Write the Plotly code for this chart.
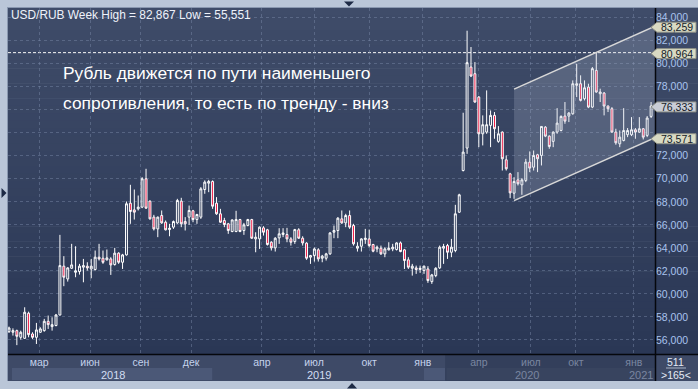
import plotly.graph_objects as go

# ---------------- data ----------------
title_text = "USD/RUB Week High = 82,867 Low = 55,551"
note_lines = ["Рубль движется по пути наименьшего",
              "сопротивления, то есть по тренду - вниз"]

opens = [56.72, 56.67, 56.81, 56.23, 56.14, 58.32, 56.52, 56.23, 56.67, 56.81,
         57.62, 57.16, 57.25, 58.17, 62.41, 61.30, 62.23, 61.88, 61.94, 62.32,
         62.41, 62.17, 62.12, 63.19, 63.10, 62.96, 63.04, 62.55, 63.54, 62.75,
         63.39, 67.88, 67.30, 67.39, 67.54, 70.00, 68.06, 66.67, 65.65, 66.81,
         66.23, 65.59, 65.80, 66.17, 68.06, 66.29, 66.67, 67.22, 66.46, 66.67,
         69.07, 69.62, 69.77, 67.88, 66.96, 66.38, 66.09, 65.42, 65.42, 66.46,
         65.51, 65.94, 66.46, 64.78, 64.78, 65.74, 65.57, 64.49, 64.00, 64.87,
         65.16, 65.16, 64.78, 64.55, 65.57, 64.84, 64.41, 63.19, 63.33, 63.83,
         63.10, 63.10, 63.48, 65.36, 65.51, 66.52, 66.17, 66.81, 65.94, 63.97,
         64.14, 64.72, 64.78, 64.29, 63.91, 63.97, 63.48, 63.83, 63.91, 63.86,
         64.43, 63.83, 62.96, 62.23, 62.26, 62.12, 62.03, 62.17, 61.07, 61.59,
         62.26, 63.97, 64.20, 63.62, 63.77, 67.10, 70.72, 72.67, 79.71, 79.13,
         77.10, 73.91, 74.06, 74.64, 75.51, 73.25, 74.06, 71.65, 70.43, 68.75,
         69.91, 69.48, 69.86, 71.45, 71.01, 72.09, 72.03, 74.49, 73.71, 73.25,
         74.06, 74.20, 75.45, 75.45, 75.65, 78.12, 78.26, 76.96, 77.97, 76.23,
         79.42, 77.39, 77.45, 76.32, 76.09, 74.06, 73.04, 73.33, 73.83, 73.83,
         74.26, 74.06, 74.35, 73.77, 75.42]
highs = [57.16, 57.01, 56.90, 56.81, 58.84, 58.46, 56.67, 57.48, 57.10, 57.83,
         58.12, 57.97, 58.26, 65.13, 63.28, 62.32, 64.35, 64.14, 62.61, 63.04,
         62.75, 63.04, 63.77, 64.35, 63.77, 63.86, 63.19, 64.00, 63.62, 63.48,
         68.03, 69.48, 69.07, 68.55, 70.14, 70.87, 68.12, 66.87, 66.72, 67.25,
         66.38, 66.09, 66.38, 68.26, 68.35, 66.67, 67.68, 67.30, 66.96, 69.28,
         69.86, 69.91, 69.86, 68.41, 67.39, 66.61, 66.17, 66.46, 67.22, 66.52,
         66.17, 66.52, 66.52, 65.36, 65.86, 65.88, 65.65, 64.58, 64.93, 65.71,
         65.71, 65.74, 64.93, 65.65, 65.71, 65.01, 64.49, 63.39, 64.03, 63.97,
         63.39, 63.57, 65.36, 65.94, 66.67, 67.25, 66.96, 67.25, 66.09, 64.49,
         64.84, 65.65, 65.59, 64.35, 64.20, 64.20, 64.06, 64.49, 64.35, 64.49,
         64.55, 63.91, 63.19, 62.61, 62.46, 62.46, 62.46, 62.41, 61.74, 62.32,
         64.20, 64.35, 64.35, 64.78, 67.74, 68.70, 75.74, 82.867, 81.45, 80.14,
         77.20, 75.51, 77.68, 75.94, 75.80, 74.58, 74.12, 72.03, 70.52, 70.14,
         70.58, 70.06, 71.74, 72.38, 72.46, 72.17, 74.58, 74.58, 73.77, 74.12,
         76.14, 75.51, 76.67, 75.80, 78.55, 80.00, 78.99, 78.55, 78.26, 79.71,
         80.964, 77.83, 77.54, 76.38, 76.23, 74.35, 74.20, 76.14, 74.41, 75.36,
         74.41, 75.36, 74.41, 75.45, 76.67]
lows = [56.61, 56.38, 55.551, 56.03, 56.09, 56.23, 56.09, 55.65, 56.61, 56.72,
        56.96, 56.81, 57.19, 58.12, 60.67, 61.07, 62.17, 61.45, 61.68, 61.01,
        62.03, 61.36, 62.03, 62.90, 62.61, 62.90, 61.65, 62.46, 62.61, 62.17,
        63.33, 66.09, 66.46, 67.25, 67.45, 67.39, 66.46, 65.51, 64.93, 66.09,
        65.51, 65.01, 65.65, 66.09, 65.80, 65.51, 66.00, 66.23, 66.09, 66.52,
        68.70, 68.84, 67.39, 66.87, 66.17, 65.80, 65.22, 65.36, 65.36, 65.36,
        65.13, 65.88, 64.78, 63.62, 63.91, 65.07, 64.20, 63.77, 63.68, 64.35,
        64.93, 64.49, 64.20, 64.35, 64.78, 64.20, 62.96, 62.61, 62.81, 62.81,
        62.75, 62.90, 63.39, 64.84, 64.84, 66.09, 65.80, 65.65, 64.20, 63.68,
        63.68, 64.35, 64.06, 63.62, 63.62, 63.39, 63.19, 63.77, 63.71, 63.77,
        63.62, 62.17, 62.17, 61.59, 61.74, 61.83, 61.74, 60.96, 60.87, 61.45,
        62.17, 62.61, 63.04, 63.19, 63.62, 67.04, 70.64, 72.17, 78.84, 76.61,
        72.75, 72.90, 73.91, 72.75, 73.48, 73.13, 70.72, 70.72, 68.32, 68.26,
        69.42, 68.61, 69.71, 70.58, 70.72, 70.58, 71.16, 73.62, 72.61, 72.75,
        73.91, 74.12, 74.78, 74.93, 75.57, 77.10, 76.72, 76.81, 76.14, 76.14,
        77.48, 76.67, 75.51, 75.80, 74.00, 72.96, 72.75, 73.25, 73.62, 73.71,
        73.48, 74.00, 73.42, 73.62, 75.28]
closes = [57.04, 56.81, 56.32, 56.67, 58.41, 56.46, 56.23, 56.87, 56.96, 57.62,
          57.33, 57.33, 58.17, 62.46, 61.45, 62.26, 62.52, 62.00, 62.41, 62.46,
          62.26, 62.41, 63.19, 63.04, 62.75, 63.13, 62.52, 63.54, 62.75, 63.39,
          67.83, 67.16, 67.10, 67.54, 70.00, 67.45, 66.52, 65.65, 66.67, 66.17,
          65.57, 65.71, 66.29, 68.12, 66.09, 66.09, 67.25, 66.46, 66.90, 69.13,
          69.71, 69.77, 67.62, 66.96, 66.23, 66.03, 65.51, 66.43, 66.46, 65.42,
          66.00, 66.46, 64.84, 64.93, 65.80, 65.36, 64.29, 64.00, 64.84, 65.22,
          65.30, 64.78, 64.49, 65.59, 64.84, 64.43, 63.10, 63.33, 63.91, 63.04,
          63.28, 63.48, 65.30, 65.51, 66.58, 66.17, 66.81, 65.80, 64.35, 64.14,
          64.78, 64.84, 64.20, 63.71, 64.06, 63.48, 63.91, 63.97, 64.06, 64.43,
          63.68, 62.90, 62.32, 62.41, 62.12, 62.23, 62.41, 61.16, 61.65, 62.23,
          64.06, 64.12, 63.62, 64.06, 66.96, 68.61, 72.32, 80.09, 78.93, 76.67,
          73.91, 74.70, 74.70, 75.51, 74.35, 73.91, 71.74, 70.87, 68.78, 69.77,
          69.57, 69.91, 71.45, 70.93, 72.03, 71.74, 74.55, 73.71, 72.81, 74.06,
          74.84, 75.42, 75.01, 75.71, 78.26, 78.26, 76.81, 77.91, 76.23, 79.57,
          77.54, 77.54, 76.32, 76.09, 74.06, 73.13, 73.62, 74.20, 74.20, 74.26,
          74.06, 74.35, 73.62, 75.28, 76.333]
week_idx = list(range(len(opens)))

month_pos = [7.7, 20.7, 33.7, 46.5, 64.6, 77.9, 92.0, 105.7, 120.0, 133.3, 144.8, 159.6]
month_names = ["мар", "июн", "сен", "дек", "апр", "июл", "окт", "янв",
               "апр", "июл", "окт", "янв"]
year_names = ["2018", "2019", "2020", "2021"]
year_pos = [26.6, 79.2, 132.2, 165.0]

price_ticks = [56 + 2 * k for k in range(15)]

channel_x = [129, 165]
channel_lower = [68.11, 73.571]
channel_upper = [77.798, 83.259]
resistance_level = 80.964

visible_total = "511"
visible_bars = ">165<"

# ---------------- geometry helpers ----------------
W, H = 698, 389
ML, MR, MT, MB = 8, 43, 8, 35
PW, PH = W - ML - MR, H - MT - MB
X_RANGE = [-0.26, 165.0]
Y_RANGE = [54.78, 84.84]
PX_PER_PRICE = PH / (Y_RANGE[1] - Y_RANGE[0])
FONT = "Liberation Sans, Arial"


def px(xp):
    return (xp - ML) / PW


def py(yp):
    return (H - MB - yp) / PH


def fmt(v):
    return f"{v:.3f}".replace(".", ",")


DIM_FROM = 111.4  # index where the dimmed part of the time strip begins

shapes = []
annotations = []

# panel background gradient
top_c, bot_c = (63, 76, 105), (42, 55, 85)
N = 46
for k in range(N):
    y0p = MT + k * PH / N
    y1p = MT + (k + 1) * PH / N + 0.6
    t = (k + 0.5) / N
    c = tuple(round(a + (b - a) * t) for a, b in zip(top_c, bot_c))
    shapes.append(dict(type="rect", xref="paper", yref="paper",
                       x0=px(8), x1=px(698), y0=py(y1p), y1=py(y0p),
                       fillcolor="rgb(%d,%d,%d)" % c, line_width=0, layer="below"))

# time strip under the plot
shapes.append(dict(type="rect", xref="paper", yref="paper", x0=px(8), x1=px(698),
                   y0=py(381), y1=py(354), fillcolor="#3e4a67", line_width=0, layer="below"))
shapes.append(dict(type="rect", xref="x", yref="paper", x0=0.75, x1=51.9,
                   y0=py(380), y1=py(368), fillcolor="#4b5877", line_width=0, layer="below"))
shapes.append(dict(type="rect", xref="x", yref="paper", x0=106.0, x1=DIM_FROM,
                   y0=py(380), y1=py(368), fillcolor="#4b5877", line_width=0, layer="below"))
shapes.append(dict(type="rect", xref="x", yref="paper", x0=DIM_FROM, x1=165.0,
                   y0=py(381), y1=py(355), fillcolor="#333f5b", line_width=0, layer="below"))
shapes.append(dict(type="rect", xref="x", yref="paper", x0=DIM_FROM + 0.3, x1=165.0,
                   y0=py(380), y1=py(368), fillcolor="#38445f", line_width=0, layer="below"))

# separators
shapes.append(dict(type="line", xref="paper", yref="paper", x0=px(8), x1=px(698),
                   y0=py(354.5), y1=py(354.5), line=dict(color="#05070c", width=1.5), layer="above"))
shapes.append(dict(type="line", xref="paper", yref="paper", x0=px(655.5), x1=px(655.5),
                   y0=py(8), y1=py(381), line=dict(color="#05070c", width=1.5), layer="above"))
shapes.append(dict(type="line", xref="paper", yref="paper", x0=px(7.5), x1=px(7.5),
                   y0=py(7), y1=py(381), line=dict(color="#8a98b0", width=1), layer="above"))
shapes.append(dict(type="line", xref="paper", yref="paper", x0=px(7), x1=px(698),
                   y0=py(7.5), y1=py(7.5), line=dict(color="#8a98b0", width=1), layer="above"))

# scroll arrows on the frame
arrow_c = "#1d2a45"
shapes.append(dict(type="path", xref="paper", yref="paper", layer="above", line_width=0,
                   fillcolor=arrow_c,
                   path=f"M {px(344)},{py(1.5)} L {px(354)},{py(1.5)} L {px(349)},{py(6.5)} Z"))
shapes.append(dict(type="path", xref="paper", yref="paper", layer="above", line_width=0,
                   fillcolor=arrow_c,
                   path=f"M {px(347)},{py(388.5)} L {px(357)},{py(388.5)} L {px(352)},{py(383)} Z"))
shapes.append(dict(type="path", xref="paper", yref="paper", layer="above", line_width=0,
                   fillcolor=arrow_c,
                   path=f"M {px(1.5)},{py(188)} L {px(6.5)},{py(193)} L {px(1.5)},{py(198)} Z"))

# price flags on the right axis (drawn a pixel below the level, as the terminal does)
flag_h = 5.0 / PX_PER_PRICE
flag_shift = 1.0 / PX_PER_PRICE
flags = [(channel_upper[-1], "#d9dac3"), (resistance_level, "#d9dac3"),
         (closes[-1], "#c9cdd6"), (channel_lower[-1], "#d9dac3")]
for v, col in flags:
    c = v - flag_shift
    shapes.append(dict(type="path", xref="paper", yref="y", layer="above",
                       fillcolor=col, line=dict(color="#8c8f86", width=1),
                       path=(f"M {px(651)},{c} L {px(657)},{c + flag_h} L {px(696)},{c + flag_h} "
                             f"L {px(696)},{c - flag_h} L {px(657)},{c - flag_h} Z")))
    annotations.append(dict(xref="paper", yref="y", x=px(677), y=c, text=fmt(v),
                            showarrow=False, xanchor="center", yanchor="middle",
                            font=dict(family=FONT, size=10.5, color="#141a28")))

# axis labels that sit under a flag are hidden by it
flag_values = [v for v, _ in flags]
price_labels = ["" if min(abs(p - f) for f in flag_values) < 0.6 else fmt(p)
                for p in price_ticks]

# bar counter box
annotations.append(dict(xref="paper", yref="paper", x=px(675.5), y=py(361.5), text=visible_total,
                        showarrow=False, xanchor="center", yanchor="middle",
                        font=dict(family=FONT, size=10.5, color="#e4eaf6")))
shapes.append(dict(type="line", xref="paper", yref="paper", x0=px(666), x1=px(686),
                   y0=py(368), y1=py(368), line=dict(color="#a8b4c8", width=1), layer="above"))
annotations.append(dict(xref="paper", yref="paper", x=px(675.5), y=py(375), text=visible_bars,
                        showarrow=False, xanchor="center", yanchor="middle",
                        font=dict(family=FONT, size=10.5, color="#e4eaf6")))

# year labels
for name, pos in zip(year_names, year_pos):
    dim = pos >= DIM_FROM
    annotations.append(dict(xref="x", yref="paper", x=pos, y=py(374.5), text=name,
                            showarrow=False, xanchor="right" if pos >= X_RANGE[1] else "center",
                            yanchor="middle",
                            font=dict(family=FONT, size=11,
                                      color="#7a86a0" if dim else "#d2ddf2")))

# title and comment
annotations.append(dict(xref="paper", yref="paper", x=px(9), y=py(15), text=title_text,
                        showarrow=False, xanchor="left", yanchor="middle",
                        font=dict(family=FONT, size=11.9, color="#eef2fa")))
for i, line in enumerate(note_lines):
    annotations.append(dict(xref="paper", yref="paper", x=px(61), y=py(73 + 30 * i), text=line,
                            showarrow=False, xanchor="left", yanchor="middle",
                            font=dict(family=FONT, size=17.4, color="#ffffff")))

# resistance level
shapes.append(dict(type="line", xref="paper", yref="y", x0=0, x1=1,
                   y0=resistance_level, y1=resistance_level,
                   line=dict(color="#f2f2f2", width=1, dash="3px,2px"), layer="below"))

fig = go.Figure()

# trend channel
fig.add_trace(go.Scatter(
    x=[channel_x[0], channel_x[1], channel_x[1], channel_x[0]],
    y=[channel_lower[0], channel_lower[1], channel_upper[1], channel_upper[0]],
    fill="toself", fillcolor="rgba(190,200,220,0.22)", mode="lines",
    line=dict(width=0), hoverinfo="skip", showlegend=False))
for edge in (channel_lower, channel_upper):
    fig.add_trace(go.Scatter(x=channel_x, y=edge, mode="lines",
                             line=dict(color="#d8d8d8", width=1.5),
                             hoverinfo="skip", showlegend=False))

fig.add_trace(go.Candlestick(
    x=week_idx, open=opens, high=highs, low=lows, close=closes,
    increasing=dict(line=dict(color="#ffffff", width=1), fillcolor="rgba(0,0,0,0)"),
    decreasing=dict(line=dict(color="#ffffff", width=1), fillcolor="#ee0f3c"),
    whiskerwidth=0, showlegend=False))

tick_text = []
for name, pos in zip(month_names, month_pos):
    col = "#7a86a0" if pos >= DIM_FROM else "#c4d2ec"
    tick_text.append(f"<span style='color:{col}'>{name}</span>")

grid_col = "rgba(125,140,170,0.45)"
fig.update_layout(
    width=W, height=H,
    margin=dict(l=ML, r=MR, t=MT, b=MB, pad=0),
    paper_bgcolor="#bac6d8",
    plot_bgcolor="rgba(0,0,0,0)",
    separators=", ",
    boxgap=0.3,
    shapes=shapes,
    annotations=annotations,
    showlegend=False,
    xaxis=dict(range=X_RANGE, rangeslider=dict(visible=False), tickmode="array",
               tickvals=month_pos, ticktext=tick_text, ticks="", showline=False,
               zeroline=False, showgrid=True, gridcolor=grid_col, griddash="3px,3px",
               gridwidth=1, tickfont=dict(family=FONT, size=10.5),
               fixedrange=True),
    yaxis=dict(range=Y_RANGE, side="right", tickmode="array", tickvals=price_ticks,
               ticktext=price_labels, ticks="", showline=False,
               zeroline=False, showgrid=True, gridcolor=grid_col, griddash="3px,3px",
               gridwidth=1,
               tickfont=dict(family=FONT, size=10.5, color="#a9c3ee"),
               fixedrange=True),
)

fig.write_html("out.html")
